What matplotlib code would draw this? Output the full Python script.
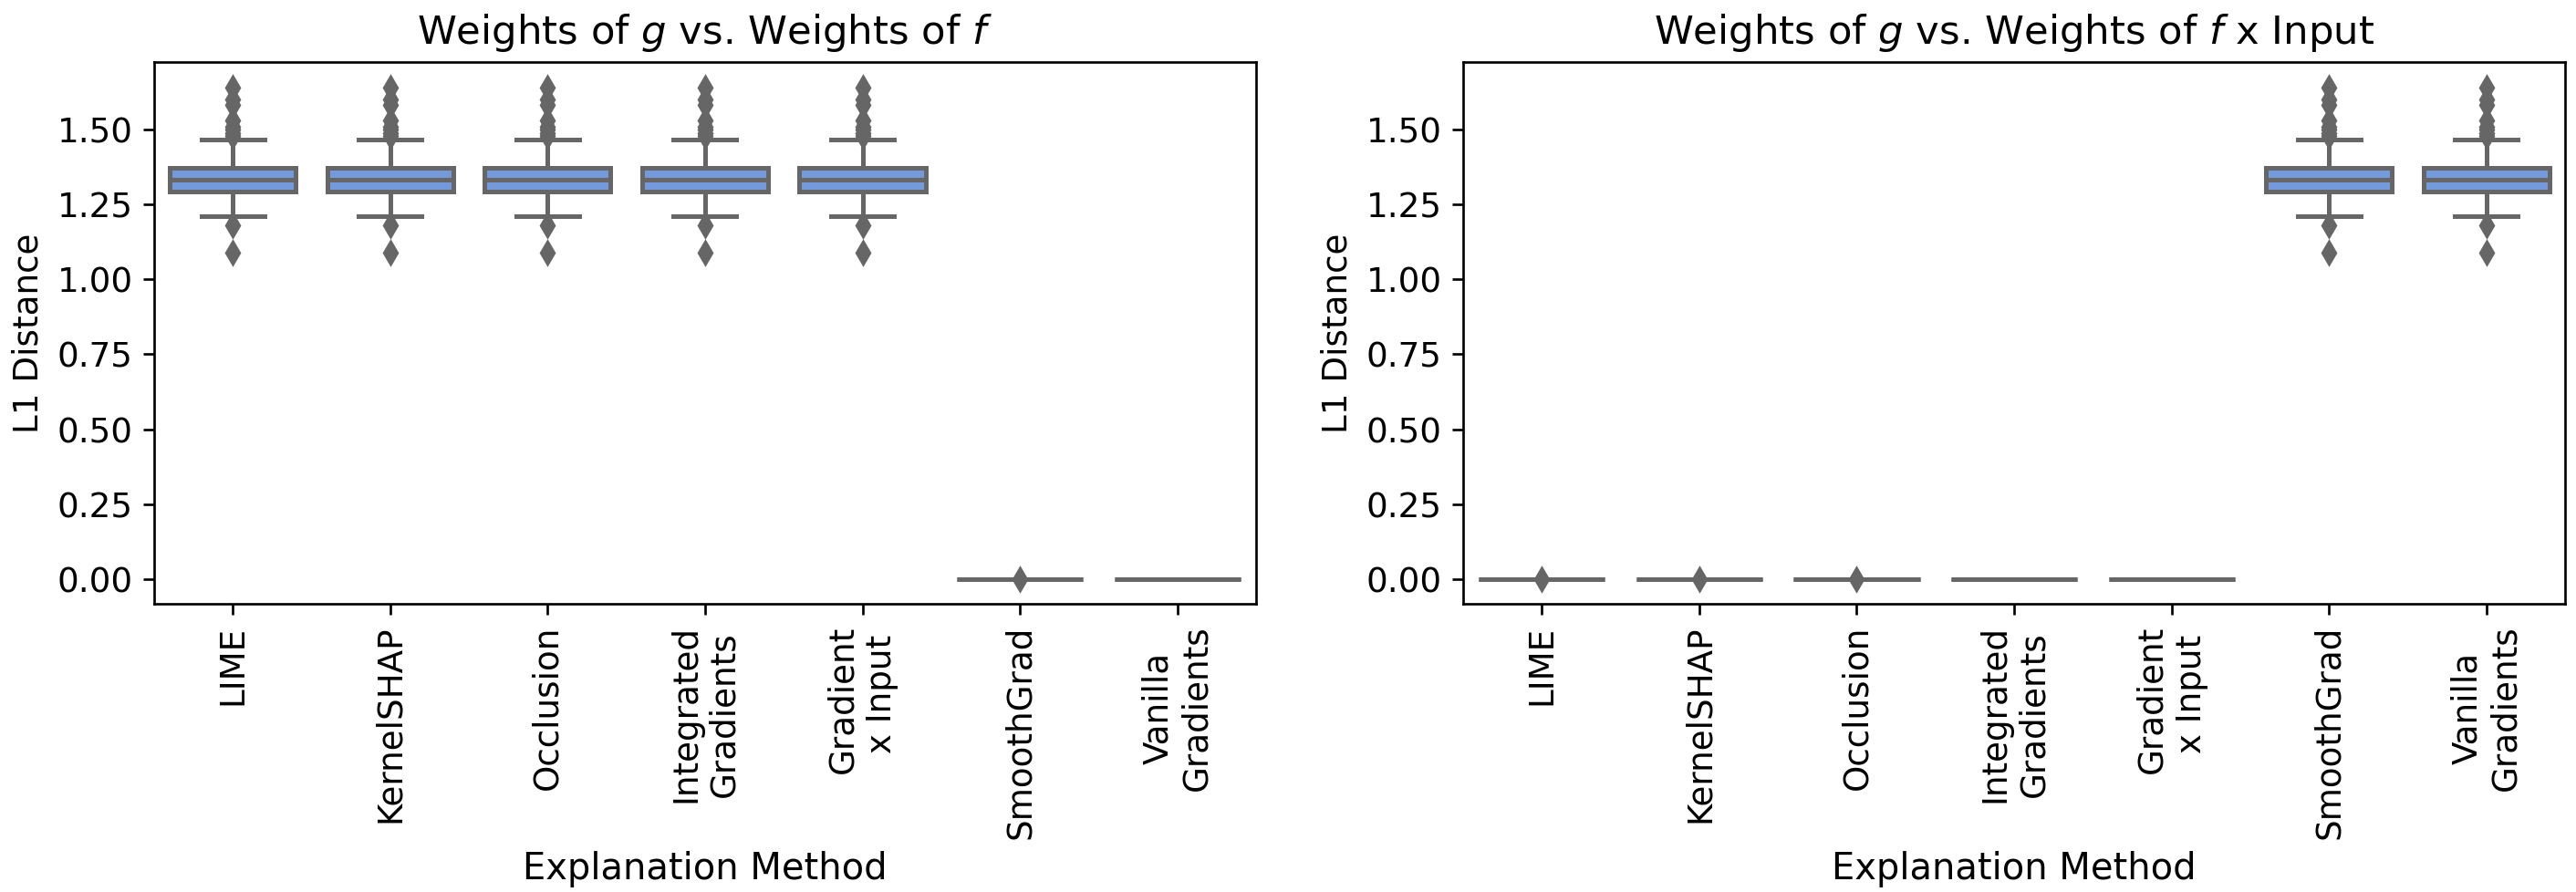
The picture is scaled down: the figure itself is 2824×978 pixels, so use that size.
import matplotlib
matplotlib.use("Agg")
import matplotlib.pyplot as plt

plt.rcParams['font.family'] = ['DejaVu Sans']

methods = ["LIME", "KernelSHAP", "Occlusion", "Integrated\nGradients",
           "Gradient\n x Input", "SmoothGrad", "Vanilla\nGradients"]

# Panel 1: Weights of g vs. Weights of f
p1_q1 = [1.292, 1.292, 1.292, 1.292, 1.292, 0.0, 0.0]
p1_med = [1.333, 1.333, 1.333, 1.333, 1.333, 0.0, 0.0]
p1_q3 = [1.372, 1.372, 1.372, 1.372, 1.372, 0.0, 0.0]
p1_whislo = [1.211, 1.211, 1.211, 1.211, 1.211, 0.0, 0.0]
p1_whishi = [1.467, 1.467, 1.467, 1.467, 1.467, 0.0, 0.0]
outliers_dist = [1.09, 1.18, 1.478, 1.488, 1.50, 1.51, 1.53, 1.58, 1.60, 1.64]
p1_fliers = [outliers_dist, outliers_dist, outliers_dist, outliers_dist,
             outliers_dist, [0.0], []]

# Panel 2: Weights of g vs. Weights of f x Input
p2_q1 = [0.0, 0.0, 0.0, 0.0, 0.0, 1.292, 1.292]
p2_med = [0.0, 0.0, 0.0, 0.0, 0.0, 1.333, 1.333]
p2_q3 = [0.0, 0.0, 0.0, 0.0, 0.0, 1.372, 1.372]
p2_whislo = [0.0, 0.0, 0.0, 0.0, 0.0, 1.211, 1.211]
p2_whishi = [0.0, 0.0, 0.0, 0.0, 0.0, 1.467, 1.467]
p2_fliers = [[0.0], [0.0], [0.0], [], [], outliers_dist, outliers_dist]

titles = ["Weights of $g$ vs. Weights of $f$",
          "Weights of $g$ vs. Weights of $f$ x Input"]

box_color = "#759adc"
gray = "#666666"
lw = 1.5

fig = plt.figure(figsize=(2824 / 240, 978 / 240), dpi=240)
ax1 = fig.add_axes([0.0598, 0.323, 0.4278, 0.607])
ax2 = fig.add_axes([0.568, 0.323, 0.4278, 0.607])

panels = [
    (ax1, p1_q1, p1_med, p1_q3, p1_whislo, p1_whishi, p1_fliers, titles[0]),
    (ax2, p2_q1, p2_med, p2_q3, p2_whislo, p2_whishi, p2_fliers, titles[1]),
]

tick_fs = 11.2
xlabel_fs = 12
ylabel_fs = 11.2
title_fs = 13

for ax, q1, med, q3, wlo, whi, fl, title in panels:
    stats = []
    for i in range(len(methods)):
        stats.append(dict(q1=q1[i], med=med[i], q3=q3[i],
                          whislo=wlo[i], whishi=whi[i], fliers=fl[i],
                          label=methods[i]))
    ax.bxp(stats, positions=list(range(len(methods))), widths=0.8,
           patch_artist=True, showfliers=True,
           boxprops=dict(facecolor=box_color, edgecolor=gray, linewidth=lw),
           whiskerprops=dict(color=gray, linewidth=lw),
           capprops=dict(color=gray, linewidth=lw),
           medianprops=dict(color=gray, linewidth=lw),
           flierprops=dict(marker="d", markersize=5, markerfacecolor=gray,
                           markeredgecolor=gray, linestyle="none"))
    ax.set_xlim(-0.5, len(methods) - 0.5)
    ax.set_ylim(-0.082, 1.723)
    ax.set_yticks([0.0, 0.25, 0.5, 0.75, 1.0, 1.25, 1.5])
    ax.set_yticklabels(["0.00", "0.25", "0.50", "0.75", "1.00", "1.25", "1.50"],
                       fontsize=tick_fs)
    ax.set_xticks(list(range(len(methods))))
    ax.set_xticklabels(methods, rotation=90, fontsize=tick_fs)
    ax.set_xlabel("Explanation Method", fontsize=xlabel_fs)
    ax.set_ylabel("L1 Distance", fontsize=ylabel_fs)
    ax.set_title(title, fontsize=title_fs)

fig.savefig("out.png", dpi=240)
